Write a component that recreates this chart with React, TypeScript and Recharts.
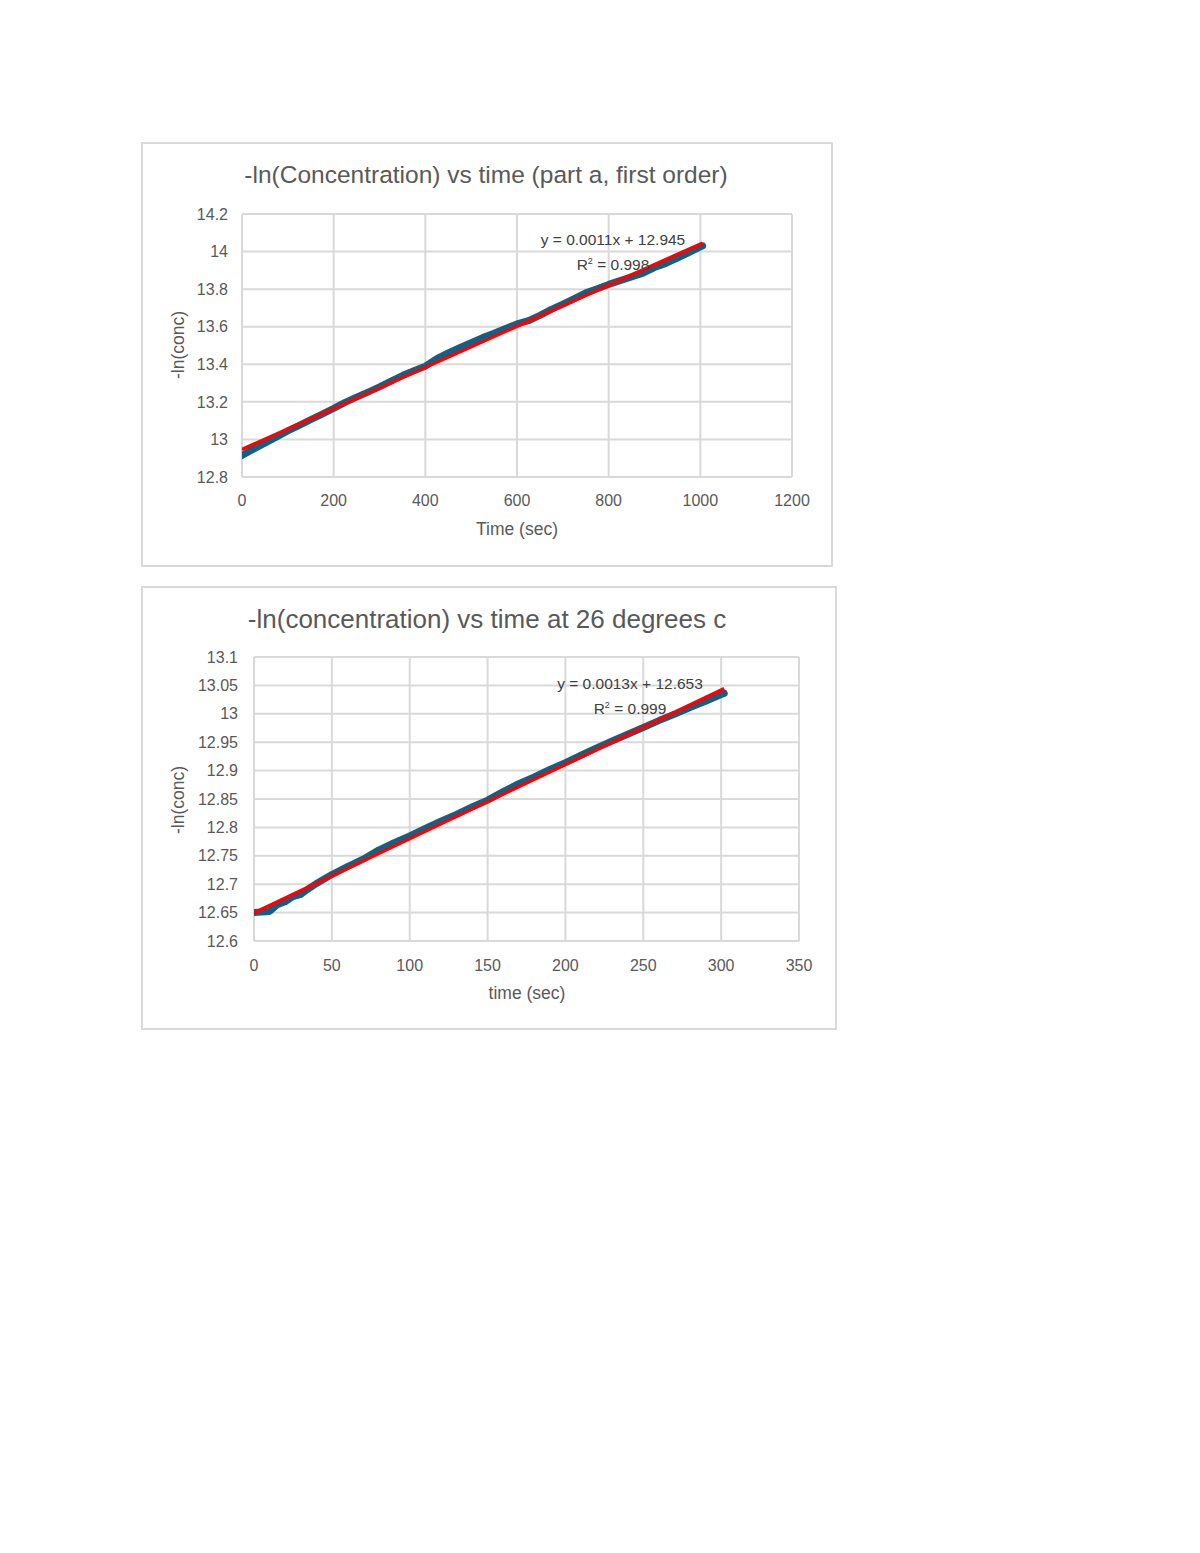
import React from "react";
import { ComposedChart, Line, XAxis, YAxis, CartesianGrid } from "recharts";

// ---------- Chart 1 data: -ln(conc) vs time (part a) ----------
const time1 = [0, 25, 50, 75, 100, 125, 150, 175, 200, 225, 250, 275, 300, 325, 350, 375, 400, 425, 450, 475, 500, 525, 550, 575, 600, 625, 650, 675, 700, 725, 750, 775, 800, 825, 850, 875, 900, 925, 950, 975, 1000, 1005];
const lnConc1 = [12.915, 12.948, 12.98, 13.012, 13.045, 13.075, 13.105, 13.135, 13.165, 13.197, 13.225, 13.252, 13.28, 13.31, 13.34, 13.366, 13.39, 13.43, 13.46, 13.488, 13.515, 13.542, 13.565, 13.59, 13.615, 13.632, 13.66, 13.692, 13.72, 13.75, 13.78, 13.802, 13.825, 13.845, 13.865, 13.885, 13.915, 13.937, 13.965, 13.995, 14.025, 14.03];
const xTicks1 = [0, 200, 400, 600, 800, 1000, 1200];
const yTicks1 = [12.8, 13, 13.2, 13.4, 13.6, 13.8, 14, 14.2];

// ---------- Chart 2 data: -ln(conc) vs time at 26 C ----------
const time2 = [0, 5, 10, 15, 20, 25, 30, 35, 40, 50, 60, 70, 80, 90, 100, 110, 120, 130, 140, 150, 160, 170, 180, 190, 200, 210, 220, 230, 240, 250, 260, 270, 280, 290, 300, 302];
const lnConc2 = [12.65, 12.651, 12.652, 12.664, 12.669, 12.678, 12.682, 12.692, 12.701, 12.717, 12.731, 12.744, 12.76, 12.773, 12.785, 12.798, 12.811, 12.823, 12.836, 12.848, 12.863, 12.877, 12.889, 12.902, 12.914, 12.927, 12.94, 12.952, 12.964, 12.976, 12.988, 12.999, 13.011, 13.022, 13.034, 13.036];
const xTicks2 = [0, 50, 100, 150, 200, 250, 300, 350];
const yTicks2 = [12.6, 12.65, 12.7, 12.75, 12.8, 12.85, 12.9, 12.95, 13, 13.05, 13.1];

const eq1 = ["y = 0.0011x + 12.945", "0.998"];
const eq2 = ["y = 0.0013x + 12.653", "0.999"];

const BLUE = "#156082";
const RED = "#ff0000";
const GRID = "#d9d9d9";
const TXT = "#595959";
const FONT = "'Liberation Sans', Arial, sans-serif";

function build(xs: number[], ys: number[]) {
  const pts = xs.map((t, i) => ({ t, v: ys[i] }));
  const n = xs.length;
  const mx = xs.reduce((a, b) => a + b, 0) / n;
  const my = ys.reduce((a, b) => a + b, 0) / n;
  let sxy = 0, sxx = 0;
  for (let i = 0; i < n; i++) {
    sxy += (xs[i] - mx) * (ys[i] - my);
    sxx += (xs[i] - mx) * (xs[i] - mx);
  }
  const m = sxy / sxx;
  const b = my - m * mx;
  const t0 = Math.min(...xs), t1 = Math.max(...xs);
  const trend = [{ t: t0, v: m * t0 + b }, { t: t1, v: m * t1 + b }];
  return { pts, trend };
}

type PanelProps = {
  left: number; top: number; width: number; height: number;
  margin: { top: number; right: number; bottom: number; left: number };
  yWidth: number;
  xs: number[]; ys: number[];
  xTicks: number[]; yTicks: number[];
  title: string; titleSize: number; xLabel: string; yLabel: string;
  eq: string[];
  titleY: number; titleX: number;
  xLabelX: number; xLabelY: number;
  yLabelX: number; yLabelY: number;
  eqX: number; eqY: number;
  yTickMargin: number; xTickMargin: number;
};

function Panel(p: PanelProps) {
  const { pts, trend } = build(p.xs, p.ys);
  const abs = (l: number, t: number): React.CSSProperties => ({ position: "absolute", left: l, top: t });
  return (
    <>
      <div style={{ position: "absolute", left: p.left, top: p.top, width: p.width - 4, height: p.height - 4, border: `2px solid ${GRID}`, background: "#fff" }} />
      <div style={{ position: "absolute", left: p.left, top: p.top }}>
        <ComposedChart width={p.width} height={p.height} margin={p.margin}>
          <CartesianGrid stroke={GRID} strokeWidth={2} horizontal vertical />
          <XAxis
            type="number" dataKey="t" domain={[p.xTicks[0], p.xTicks[p.xTicks.length - 1]]}
            ticks={p.xTicks} interval={0} axisLine={false} tickLine={false}
            tickMargin={p.xTickMargin} height={30}
            tick={{ fill: TXT, fontSize: 16, fontFamily: FONT }}
            allowDataOverflow
          />
          <YAxis
            type="number" domain={[p.yTicks[0], p.yTicks[p.yTicks.length - 1]]}
            ticks={p.yTicks} interval={0} axisLine={false} tickLine={false}
            tickMargin={p.yTickMargin} width={p.yWidth}
            tick={{ fill: TXT, fontSize: 16, fontFamily: FONT }}
            allowDataOverflow
          />
          <Line data={pts} dataKey="v" type="linear" stroke={BLUE} strokeWidth={7} strokeLinejoin="round" strokeLinecap="round" dot={false} isAnimationActive={false} />
          <Line data={trend} dataKey="v" type="linear" stroke={RED} strokeWidth={3.5} dot={false} isAnimationActive={false} />
        </ComposedChart>
      </div>
      <div style={{ ...abs(p.titleX - 400, p.titleY - 15), width: 800, textAlign: "center", fontFamily: FONT, fontSize: p.titleSize, color: TXT, lineHeight: "30px", whiteSpace: "nowrap" }}>{p.title}</div>
      <div style={{ ...abs(p.xLabelX - 100, p.xLabelY - 11), width: 200, textAlign: "center", fontFamily: FONT, fontSize: 17.5, color: TXT, lineHeight: "22px" }}>{p.xLabel}</div>
      <div style={{ ...abs(p.yLabelX - 100, p.yLabelY - 11), width: 200, textAlign: "center", fontFamily: FONT, fontSize: 17.5, color: TXT, lineHeight: "22px", transform: "rotate(-90deg)" }}>{p.yLabel}</div>
      <div style={{ ...abs(p.eqX - 100, p.eqY - 10), width: 200, textAlign: "center", fontFamily: FONT, fontSize: 15.5, color: "#404040", lineHeight: "20px", whiteSpace: "nowrap" }}>{p.eq[0]}</div>
      <div style={{ ...abs(p.eqX - 100, p.eqY + 11), width: 200, textAlign: "center", fontFamily: FONT, fontSize: 15.5, color: "#404040", lineHeight: "20px", whiteSpace: "nowrap" }}>R<sup style={{ fontSize: 9 }}>2</sup> = {p.eq[1]}</div>
    </>
  );
}

export default function App() {
  return (
    <div style={{ width: 1200, height: 1553, position: "absolute", left: 0, top: 0 }}>
      <Panel
        left={141} top={142} width={692} height={425}
        margin={{ top: 72, right: 41, bottom: 60, left: 41 }} yWidth={60}
        xs={time1} ys={lnConc1} xTicks={xTicks1} yTicks={yTicks1}
        title="-ln(Concentration) vs time (part a, first order)" titleSize={24.5}
        xLabel="Time (sec)" yLabel="-ln(conc)" eq={eq1}
        titleX={486} titleY={175} xLabelX={517} xLabelY={529} yLabelX={178} yLabelY={345}
        eqX={613} eqY={240} yTickMargin={8} xTickMargin={12}
      />
      <Panel
        left={141} top={586} width={696} height={444}
        margin={{ top: 71, right: 38, bottom: 59, left: 43 }} yWidth={70}
        xs={time2} ys={lnConc2} xTicks={xTicks2} yTicks={yTicks2}
        title="-ln(concentration) vs time at 26 degrees c" titleSize={26}
        xLabel="time (sec)" yLabel="-ln(conc)" eq={eq2}
        titleX={487} titleY={619} xLabelX={527} xLabelY={993} yLabelX={178} yLabelY={800}
        eqX={630} eqY={684} yTickMargin={10} xTickMargin={13}
      />
    </div>
  );
}
